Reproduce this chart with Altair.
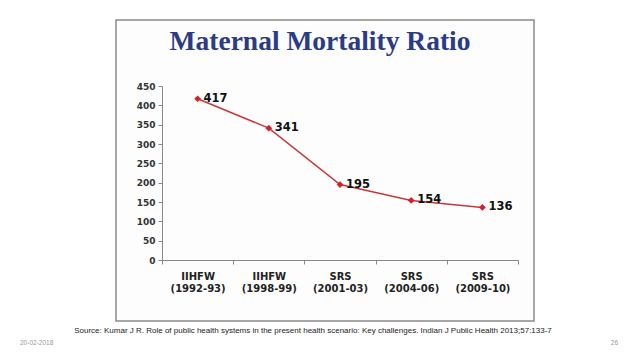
import altair as alt
import pandas as pd

categories = ["IIHFW|(1992-93)", "IIHFW|(1998-99)", "SRS|(2001-03)", "SRS|(2004-06)", "SRS|(2009-10)"]
values = [417, 341, 195, 154, 136]
y_ticks = [0, 50, 100, 150, 200, 250, 300, 350, 400, 450]

title_text = "Maternal Mortality Ratio"
source_text = ("Source: Kumar J R. Role of public health systems in the present health scenario: "
               "Key challenges. Indian J Public Health 2013;57:133-7")
date_text = "20-02-2018"
page_text = "26"

df = pd.DataFrame({"cat": categories, "val": values})

W, H = 356, 174

x_enc = alt.X("cat:N", sort=categories, title=None,
              scale=alt.Scale(paddingInner=0, paddingOuter=0),
              axis=alt.Axis(labelExpr="split(datum.label, '|')", labelAngle=0,
                            labelFont="DejaVu Sans", labelFontWeight="bold", labelFontSize=10,
                            labelColor="#222", labelPadding=7, labelLineHeight=12,
                            labelOverlap=False,
                            tickBand="extent", tickSize=4, tickColor="#888",
                            domainColor="#888", grid=False, zindex=1))
y_enc = alt.Y("val:Q", title=None,
              scale=alt.Scale(domain=[0, 450], nice=False),
              axis=alt.Axis(values=y_ticks, labelFont="DejaVu Sans", labelFontWeight="bold",
                            labelFontSize=9, labelColor="#333", labelPadding=3,
                            labelOverlap=False, labelFlush=False,
                            tickSize=4, tickColor="#888", domainColor="#888", grid=False,
                            zindex=1))

base = alt.Chart(df)

box = alt.Chart(pd.DataFrame({"a": [0]})).mark_rect(
    fill="#fdfdfd", stroke="#8a8a8a", strokeWidth=1.5
).encode(x=alt.value(-46), x2=alt.value(372), y=alt.value(-66), y2=alt.value(235))

line = base.mark_line(color="#C8373A", strokeWidth=1.5).encode(x=x_enc, y=y_enc)
pts = base.mark_point(shape="diamond", filled=True, size=45, color="#D4202A", opacity=1).encode(
    x=x_enc, y=y_enc)
labels = base.mark_text(align="left", baseline="middle", dx=6, fontSize=11.5,
                        font="DejaVu Sans", fontWeight="bold", color="#111").encode(
    x=x_enc, y=y_enc, text="val:Q")

def txt(t, x, y, **kw):
    return alt.Chart(pd.DataFrame({"t": [t]})).mark_text(**kw).encode(
        x=alt.value(x), y=alt.value(y), text="t:N")

title = txt(title_text, 158, -36, align="center", baseline="alphabetic", fontSize=27.5,
            font="Liberation Serif", fontWeight="bold", color="#2C3B85")
source = txt(source_text, 151, 245, align="center", baseline="middle", fontSize=8,
             font="Liberation Sans", color="#222")
date = txt(date_text, -142, 257, align="left", baseline="middle", fontSize=6.5,
           font="Liberation Sans", color="#999")
page = txt(page_text, 456, 257, align="right", baseline="middle", fontSize=6.5,
           font="Liberation Sans", color="#999")

chart = alt.layer(box, line, pts, labels, title, source, date, page).properties(
    width=W, height=H,
    autosize=alt.AutoSizeParams(type="none"),
    padding={"left": 154, "top": 78, "right": 112, "bottom": 90},
    background="white",
).configure_view(stroke=None)

chart.save("out.html", embed_options={"renderer": "svg", "actions": False})
